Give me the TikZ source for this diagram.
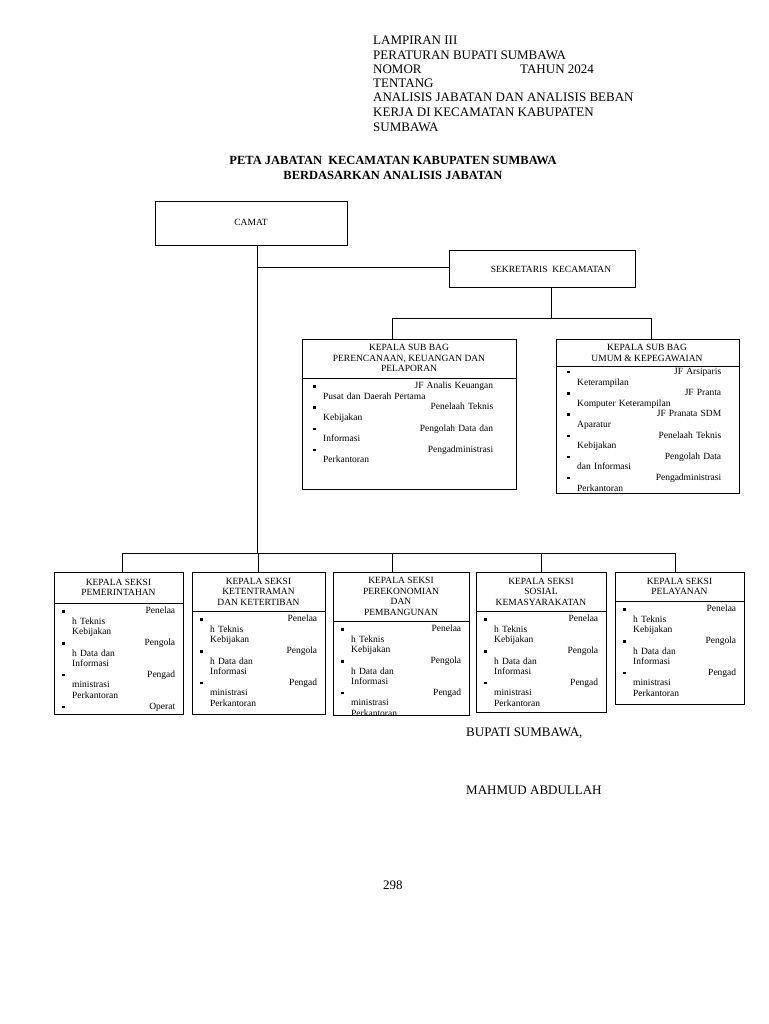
\documentclass[tikz,border=0pt]{standalone}
\usepackage{fontspec}
\setmainfont{Liberation Serif}
\begin{document}
\begin{tikzpicture}[x=1pt,y=-1pt,
  bx/.style={draw,line width=0.8pt},
  ln/.style={line width=0.8pt},
  hd/.style={font=\fontsize{9.5}{10.5}\selectfont,align=center,inner sep=0},
  bd/.style={anchor=north west,inner sep=0,font=\fontsize{9.5}{10.6}\selectfont,align=left},
  tx/.style={anchor=base west,inner sep=0,font=\fontsize{13}{15}\selectfont}]
\newcommand\bl[1]{\makebox[\linewidth][l]{\rule[1pt]{2.5pt}{2.5pt}\hfill #1}}
\newcommand\cn[1]{\hspace*{10pt}#1}
\useasboundingbox (0,0) rectangle (768,1024);
\fill[white] (0,0) rectangle (768,1024);
% header
\node[tx] (h1) at (373,45) {LAMPIRAN III};
\node[tx] (h2) at (373,60) {PERATURAN BUPATI SUMBAWA};
\node[tx] (h3) at (373,74) {NOMOR};
\node[tx] (h3b) at (520,74) {TAHUN 2024};
\node[tx] (h4) at (373,88) {TENTANG};
\node[tx] (h5) at (373,102) {ANALISIS JABATAN DAN ANALISIS BEBAN};
\node[tx] (h6) at (373,117) {KERJA DI KECAMATAN KABUPATEN};
\node[tx] (h7) at (373,132) {SUMBAWA};
\node[font=\fontsize{12.5}{15}\selectfont\bfseries,align=center] (t) at (393,168) {PETA JABATAN\ \ KECAMATAN KABUPATEN SUMBAWA\\BERDASARKAN ANALISIS JABATAN};
% camat, sekretaris
\draw[bx] (155,201) rectangle (347,245);
\node[hd] (camat) at (251,222) {CAMAT};
\draw[bx] (449,250) rectangle (635,287);
\node[hd] (sek) at (551,269) {SEKRETARIS\ \ KECAMATAN};
\coordinate (c1) at (257,245); \coordinate (c2) at (257,553);
\draw[ln] (c1) -- (c2);
\coordinate (c3) at (257,267); \coordinate (c4) at (449,267);
\draw[ln] (c3) -- (c4);
\coordinate (s1) at (551,287); \coordinate (s2) at (551,318);
\coordinate (s3) at (392,318); \coordinate (s4) at (651,318);
\coordinate (s5) at (392,339); \coordinate (s6) at (651,339);
\draw[ln] (s1) -- (s2); \draw[ln] (s5) -- (s3) -- (s4) -- (s6);
% sub bag PK
\draw[bx] (302,339) rectangle (516,489); \draw[ln] (302,378) -- (516,378);
\node[hd] (pk) at (409,358) {KEPALA SUB BAG\\PERENCANAAN, KEUANGAN DAN\\PELAPORAN};
\node[bd,text width=180pt] (pkb) at (313,382) {\bl{JF Analis Keuangan}\\\cn{Pusat dan Daerah Pertama}\\\bl{Penelaah Teknis}\\\cn{Kebijakan}\\\bl{Pengolah Data dan}\\\cn{Informasi}\\\bl{Pengadministrasi}\\\cn{Perkantoran}};
% sub bag UK
\draw[bx] (556,339) rectangle (739,493); \draw[ln] (556,366) -- (739,366);
\node[hd] (uk) at (647,353) {KEPALA SUB BAG\\UMUM \& KEPEGAWAIAN};
\begin{scope}
\clip (556,366) rectangle (739,492);
\node[bd,text width=154pt] (ukb) at (567,368) {\bl{JF Arsiparis}\\\cn{Keterampilan}\\\bl{JF Pranta}\\\cn{Komputer Keterampilan}\\\bl{JF Pranata SDM}\\\cn{Aparatur}\\\bl{Penelaah Teknis}\\\cn{Kebijakan}\\\bl{Pengolah Data}\\\cn{dan Informasi}\\\bl{Pengadministrasi}\\\cn{Perkantoran}};
\end{scope}
% bus
\draw[ln] (122,553) -- (675,553);
\foreach \x in {122,258,392,541,675} \draw[ln] (\x,553) -- (\x,572);
% seksi boxes
\newcommand\sk[7]{%
  \draw[bx] (#1,572) rectangle (#2,#3); \draw[ln] (#1,#4) -- (#2,#4);
  \node[hd] at ({(#1+#2)/2},{(572+#4)/2}) {#5};
  \begin{scope}\clip (#1,#4) rectangle (#2,#3-1);
  \node[bd,text width={#2-#1-16}] at (#1+8,#4+4) {#6};
  \end{scope}}
\newcommand\std{\bl{Penelaa}\\\cn{h Teknis}\\\cn{Kebijakan}\\\bl{Pengola}\\\cn{h Data dan}\\\cn{Informasi}\\\bl{Pengad}\\\cn{ministrasi}\\\cn{Perkantoran}}
\sk{54}{183}{714}{603}{KEPALA SEKSI\\PEMERINTAHAN}{\std\\\bl{Operat}}{}
\sk{192}{325}{714}{611}{KEPALA SEKSI\\KETENTRAMAN\\DAN KETERTIBAN}{\std}{}
\sk{333}{469}{715}{621}{KEPALA SEKSI\\PEREKONOMIAN\\DAN\\PEMBANGUNAN}{\std}{}
\sk{476}{606}{712}{611}{KEPALA SEKSI\\SOSIAL\\KEMASYARAKATAN}{\std}{}
\sk{615}{744}{704}{601}{KEPALA SEKSI\\PELAYANAN}{\std}{}
% footer
\node[tx] (f1) at (466,736) {BUPATI SUMBAWA,};
\node[tx] (f2) at (466,794) {MAHMUD ABDULLAH};
\node[tx] (f3) at (383,889) {298};
\end{tikzpicture}
\end{document}
